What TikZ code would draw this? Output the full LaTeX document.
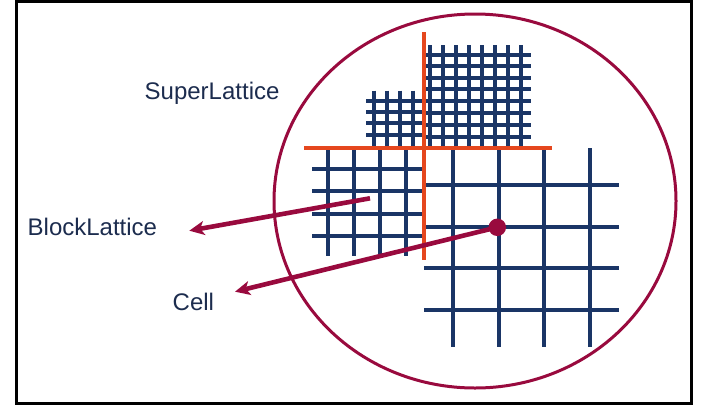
\documentclass[tikz,border=0pt]{standalone}
\usepackage{fontspec}
\setmainfont{Liberation Sans}
\usetikzlibrary{arrows.meta}
\definecolor{gridnavy}{HTML}{1A3566}
\definecolor{txtnavy}{HTML}{1C2C4E}
\definecolor{cutred}{HTML}{E5471E}
\definecolor{maroon}{HTML}{990A3E}
\tikzset{
  gridline/.style={draw=gridnavy, line width=4bp},
  cutline/.style={draw=cutred, line width=4.5bp},
  pointer/.style={draw=maroon, line width=4.6bp, -{Stealth[length=15bp,width=14bp,inset=4bp]}},
  lbl/.style={text=txtnavy, font=\fontsize{24bp}{28bp}\selectfont, inner sep=0pt, anchor=base west},
}
\begin{document}
\begin{tikzpicture}[x=1bp,y=-1bp]
\useasboundingbox (0,0) rectangle (706,410);
% frame
\draw[line width=3bp, black] (16.5,1.5) rectangle (691,403);
% big ellipse
\draw[maroon, line width=3bp] (475,201) ellipse [x radius=201, y radius=187];
% superlattice fine grid (right)
\foreach \x in {430,443,456,469,482,495,508,521}
  \draw[gridline] (\x,45) -- (\x,148);
\foreach \y in {55,66,78,89,101,113,125,137}
  \draw[gridline] (424,\y) -- (530.7,\y);
% superlattice small grid (left)
\foreach \x in {374,387,400,413}
  \draw[gridline] (\x,90.5) -- (\x,148);
\foreach \y in {101,112,123,135}
  \draw[gridline] (366,\y) -- (424,\y);
% block lattice grid
\foreach \x in {328,354,380,406}
  \draw[gridline] (\x,148) -- (\x,256);
\foreach \y in {169,191,214,236}
  \draw[gridline] (312.3,\y) -- (424,\y);
% cell grid
\foreach \x in {453,499,544,590}
  \draw[gridline] (\x,148) -- (\x,347);
\foreach \y in {185,227,268,310}
  \draw[gridline] (424,\y) -- (619,\y);
% red cut lines
\draw[cutline] (424,32) -- (424,259.5);
\draw[cutline] (304,148) -- (552,148);
% labels
\node[lbl] (super) at (144.5,99.3) {SuperLattice};
\node[lbl] (block) at (27.5,235.7) {BlockLattice};
\node[lbl] (cell) at (172.5,310) {Cell};
% pointer ends
\coordinate (blockstart) at (370,198.3);
\coordinate (blocktip) at (189.3,230.7);
\coordinate (celltip) at (235,291.7);
\node[circle, fill=maroon, minimum size=17.5bp, inner sep=0pt] (dot) at (497.3,227.3) {};
\draw[pointer] (blockstart) -- (blocktip);
\draw[pointer] (dot.center) -- (celltip);
\end{tikzpicture}
\end{document}
